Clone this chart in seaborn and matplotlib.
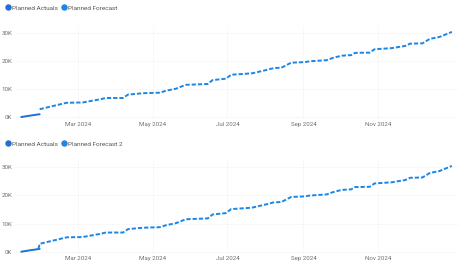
import matplotlib
matplotlib.use("Agg")
import matplotlib.pyplot as plt
import matplotlib.dates as mdates
from matplotlib.lines import Line2D
import seaborn as sns
import pandas as pd
import numpy as np

# ---- data ----
actual_dates = ["2024-01-15", "2024-01-22", "2024-01-30"]
actual_values = [0, 500, 1000]

forecast_dates = [
    "2024-01-30", "2024-02-21", "2024-03-05", "2024-03-19", "2024-03-24",
    "2024-04-07", "2024-04-11", "2024-04-23", "2024-05-07", "2024-05-12",
    "2024-05-20", "2024-05-28", "2024-06-15", "2024-06-19", "2024-06-30",
    "2024-07-04", "2024-07-21", "2024-07-31", "2024-08-08", "2024-08-14",
    "2024-08-22", "2024-09-02", "2024-09-06", "2024-09-20", "2024-09-25",
    "2024-10-02", "2024-10-10", "2024-10-13", "2024-10-25", "2024-10-29",
    "2024-11-12", "2024-11-23", "2024-11-27", "2024-12-07", "2024-12-13",
    "2024-12-21", "2024-12-31",
]
forecast_values = [
    2800, 5100, 5200, 6300, 6800,
    6800, 8000, 8500, 8700, 9400,
    10100, 11500, 11800, 13200, 13700,
    15100, 15600, 16600, 17500, 17600,
    19400, 19600, 19900, 20300, 21100,
    21900, 22100, 22900, 23000, 24200,
    24600, 25400, 26200, 26300, 27900,
    28600, 30400,
]

# Forecast 2 begins at the last actual point
forecast2_dates = ["2024-01-29"] + forecast_dates
forecast2_values = [1000] + forecast_values

y_ticks = [0, 10000, 20000, 30000]
y_tick_labels = ["0K", "10K", "20K", "30K"]
x_ticks = ["2024-03-01", "2024-05-01", "2024-07-01", "2024-09-01", "2024-11-01"]
x_tick_labels = ["Mar 2024", "May 2024", "Jul 2024", "Sep 2024", "Nov 2024"]

panel_series = [("Planned Actuals", "Planned Forecast"),
                ("Planned Actuals", "Planned Forecast 2")]

# ---- styling ----
sns.set_theme(style="white")
plt.rcParams["font.family"] = ["Roboto", "DejaVu Sans"]

c_act = "#1f6fd4"
c_fc = "#1a86e6"
grid_c = "#efefef"
tick_c = "#6f6f6f"

fig = plt.figure(figsize=(4.74, 2.73), dpi=100)
W, H = 474, 273

def px_axes(left, top, right, bottom):
    return fig.add_axes([left / W, 1 - bottom / H, (right - left) / W, (bottom - top) / H])

mar1 = mdates.date2num(pd.Timestamp("2024-03-01"))
nov1 = mdates.date2num(pd.Timestamp("2024-11-01"))
xlim = (mar1 - 51.1, nov1 + 65)

layouts = [
    dict(top=26, bottom=119, legend_y=8),
    dict(top=160, bottom=253.7, legend_y=144),
]

df_act = pd.DataFrame({"date": pd.to_datetime(actual_dates), "value": actual_values})
df_fc = pd.DataFrame({"date": pd.to_datetime(forecast_dates), "value": forecast_values})
df_fc2 = pd.DataFrame({"date": pd.to_datetime(forecast2_dates), "value": forecast2_values})

for i, lay in enumerate(layouts):
    ax = px_axes(15, lay["top"], 458, lay["bottom"])
    fc = df_fc if i == 0 else df_fc2
    sns.lineplot(data=df_act, x="date", y="value", ax=ax, color=c_act, lw=1.4, legend=False)
    sns.lineplot(data=fc, x="date", y="value", ax=ax, color=c_fc, lw=1.4,
                 dashes=False, legend=False, linestyle=(0, (2.2, 1.0)))
    ax.set_xlim(xlim)
    ax.set_ylim(-700, 32500)
    ax.set_yticks(y_ticks)
    ax.set_yticklabels(y_tick_labels)
    ax.set_xticks([mdates.date2num(pd.Timestamp(d)) for d in x_ticks])
    ax.set_xticklabels(x_tick_labels)
    ax.tick_params(axis="y", length=0, labelsize=4.4, colors=tick_c, pad=2)
    ax.tick_params(axis="x", length=0, labelsize=4.4, colors=tick_c, pad=2)
    ax.grid(True, color=grid_c, lw=0.6, linestyle=(0, (1, 1)))
    ax.set_axisbelow(True)
    for s in ax.spines.values():
        s.set_visible(False)
    ax.set_xlabel("")
    ax.set_ylabel("")

    names = panel_series[i]
    handles = [
        Line2D([], [], marker="o", linestyle="none", color=c_act, markersize=3.6),
        Line2D([], [], marker="o", linestyle="none", color=c_fc, markersize=3.6),
    ]
    fig.legend(handles, names, loc="center left",
               bbox_to_anchor=(3 / W, 1 - lay["legend_y"] / H),
               ncol=2, frameon=False, fontsize=4.6, handletextpad=0.35,
               columnspacing=0.6, handlelength=0.6, borderpad=0, labelcolor="#555555")

fig.savefig("out.png", dpi=100)
